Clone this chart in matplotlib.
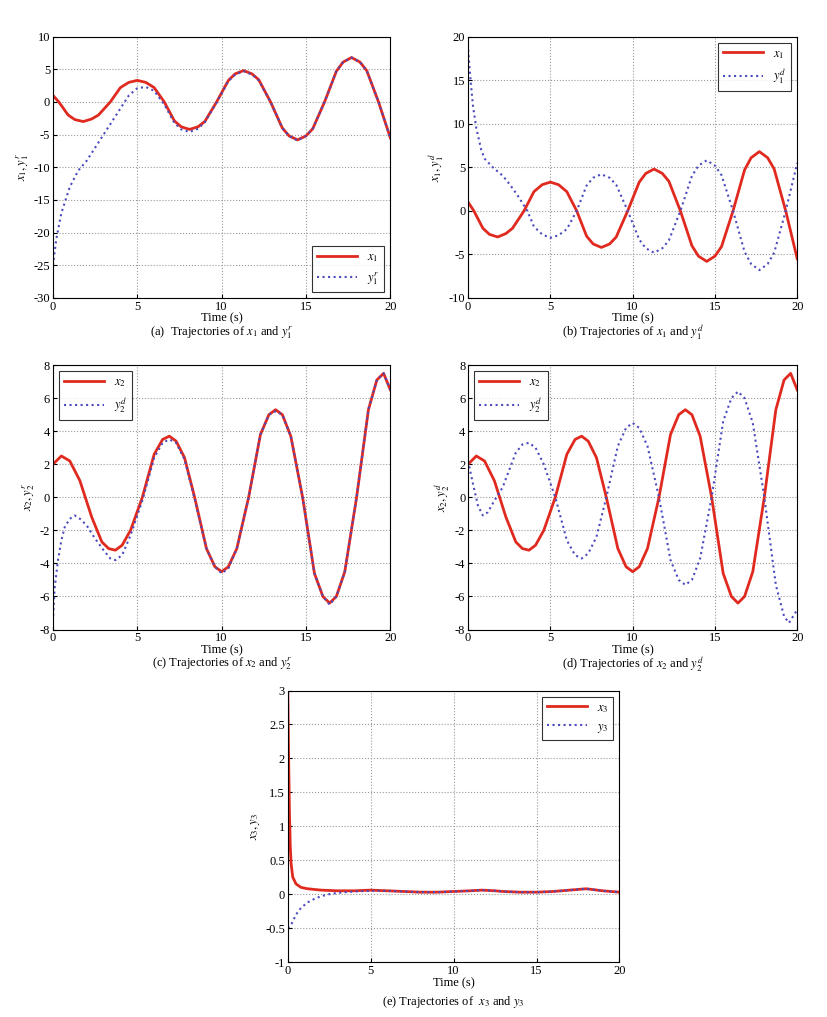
import matplotlib
matplotlib.use("Agg")
import matplotlib.pyplot as plt
from matplotlib.ticker import FormatStrFormatter

plt.rcParams['font.family'] = ['Liberation Serif', 'DejaVu Serif']
plt.rcParams['mathtext.fontset'] = 'stix'
plt.rcParams['axes.unicode_minus'] = False

# ---- data ----
t_x1 = [0,0.35,0.9,1.3,1.8,2.3,2.7,3.4,4.0,4.5,5.0,5.5,6.0,6.6,7.2,7.6,8.1,8.6,9.0,9.7,10.4,10.8,11.3,11.8,12.2,12.9,13.6,14.0,14.5,15.0,15.4,16.1,16.8,17.2,17.7,18.2,18.6,19.3,20]
x1 = [1,0,-2.0,-2.7,-3.0,-2.6,-2.0,0,2.2,3.0,3.3,3.0,2.2,0,-2.9,-3.8,-4.2,-3.8,-3.0,0,3.3,4.3,4.8,4.3,3.4,0,-4.0,-5.2,-5.8,-5.2,-4.1,0,4.7,6.1,6.8,6.1,4.8,0,-5.5]

t_y1r = [0,0.2,0.5,1.0,1.5,2.0,2.5,3.0,3.5,4.0,4.5,5.0,5.5,6.0,6.6,7.2,7.6,8.1,8.6,9.0,9.7,10.4,10.8,11.3,11.8,12.2,12.9,13.6,14.0,14.5,15.0,15.4,16.1,16.8,17.2,17.7,18.2,18.6,19.3,20]
y1r = [-25,-21,-17,-13,-10.5,-9,-7,-5,-3,-1,1,2.1,2.3,1.7,-0.4,-3.2,-4.2,-4.6,-4.1,-3.1,-0.1,3.2,4.2,4.7,4.2,3.3,0,-4.0,-5.2,-5.9,-5.2,-4.1,0,4.7,6.1,6.8,6.1,4.8,0,-5.5]

t_y1d = [0,0.15,0.3,0.5,0.8,1.0,1.5,2.0,2.3,2.7,3.0,3.6,4.0,4.5,5.0,5.5,6.0,6.6,7.2,7.6,8.1,8.6,9.0,9.7,10.4,10.8,11.3,11.8,12.2,12.9,13.6,14.0,14.5,15.0,15.4,16.1,16.8,17.2,17.7,18.2,18.6,19.3,20]
y1d = [18.5,15,12,9.5,7,6,5,4.2,3.6,2.6,1.8,0,-1.8,-2.7,-3.1,-2.8,-2.1,0,2.9,3.8,4.2,3.8,3.0,0,-3.3,-4.3,-4.8,-4.3,-3.4,0,4.0,5.2,5.8,5.2,4.1,0,-4.7,-6.1,-6.8,-6.1,-4.8,0,5.5]

t_x2 = [0,0.5,1.0,1.6,2.3,2.9,3.3,3.7,4.1,4.6,5.3,6.0,6.5,6.9,7.3,7.8,8.4,9.1,9.6,10.0,10.4,10.9,11.6,12.3,12.8,13.2,13.6,14.1,14.8,15.5,16.0,16.4,16.8,17.3,18.0,18.7,19.2,19.6,20]
x2 = [2.0,2.5,2.2,1.0,-1.2,-2.7,-3.1,-3.2,-2.9,-2.0,0,2.6,3.5,3.7,3.4,2.4,0,-3.1,-4.2,-4.5,-4.2,-3.1,0,3.8,5.0,5.3,5.0,3.7,0,-4.6,-6.0,-6.4,-6.0,-4.5,0,5.3,7.1,7.5,6.5]

t_y2r = [0,0.1,0.3,0.5,0.7,1.0,1.3,1.6,2.0,2.5,3.0,3.4,3.7,4.1,4.6,5.3,6.0,6.5,6.9,7.3,7.8,8.4,9.1,9.6,10.0,10.4,10.9,11.6,12.3,12.8,13.2,13.6,14.1,14.8,15.5,16.0,16.4,16.8,17.3,18.0,18.7,19.2,19.6,20]
y2r = [-7.5,-5.5,-3.8,-2.6,-1.8,-1.3,-1.1,-1.3,-1.7,-2.5,-3.2,-3.7,-3.8,-3.5,-2.3,-0.2,2.4,3.3,3.5,3.3,2.3,-0.1,-3.1,-4.2,-4.6,-4.3,-3.1,0,3.8,5.0,5.2,5.0,3.7,0,-4.6,-6.0,-6.5,-6.0,-4.5,0,5.3,7.1,7.5,6.5]

t_y2d = [0,0.3,0.6,0.9,1.2,1.6,2.1,2.9,3.3,3.7,4.1,4.6,5.3,6.0,6.5,6.9,7.3,7.8,8.4,9.1,9.6,10.0,10.4,10.9,11.6,12.3,12.8,13.2,13.6,14.1,14.8,15.5,16.0,16.4,16.8,17.3,18.0,18.7,19.2,19.5,20]
y2d = [2.2,0.8,-0.5,-1.1,-0.9,-0.2,0.6,2.7,3.2,3.3,3.0,2.0,0,-2.6,-3.5,-3.7,-3.4,-2.4,0,3.1,4.2,4.5,4.2,3.1,0,-3.8,-5.0,-5.3,-5.0,-3.7,0,4.6,6.0,6.4,6.0,4.5,0,-5.3,-7.2,-7.6,-6.8]

t_x3 = [0,0.05,0.1,0.15,0.2,0.3,0.5,0.8,1.2,2,3,4,5,6,7,8,9,10,11,11.7,12.5,13,14,15,16,17,18,19,20]
x3 = [3.0,2.0,1.2,0.7,0.45,0.25,0.15,0.1,0.08,0.06,0.05,0.05,0.06,0.05,0.04,0.03,0.03,0.04,0.05,0.06,0.05,0.04,0.03,0.03,0.04,0.06,0.08,0.05,0.03]
t_y3 = [0,0.2,0.5,0.8,1.2,1.6,2,2.5,3,4,5,6,7,8,9,10,11,11.7,12.5,13,14,15,16,17,18,19,20]
y3 = [-0.5,-0.45,-0.3,-0.2,-0.12,-0.07,-0.03,0,0.02,0.04,0.05,0.05,0.04,0.03,0.03,0.04,0.05,0.06,0.05,0.04,0.03,0.03,0.04,0.06,0.08,0.05,0.03]

RED = '#e02a1f'
BLUE = '#4b4bbf'

fig = plt.figure(figsize=(8.27, 10.17), dpi=100)

def make(rect, xs, ys, tsd, yd, ylim, yticks, ylabel, lab1, lab2, loc, caption, cap_y):
    ax = fig.add_axes(rect)
    ax.plot(xs, ys, color=RED, lw=2, label=lab1)
    ax.plot(tsd, yd, color=BLUE, lw=1.5, ls=':', label=lab2)
    ax.set_xlim(0, 20)
    ax.set_ylim(*ylim)
    ax.set_xticks([0, 5, 10, 15, 20])
    ax.set_yticks(yticks)
    ax.yaxis.set_major_formatter(FormatStrFormatter('%g'))
    ax.grid(True, ls=':', color='#999999', lw=0.8)
    ax.tick_params(labelsize=9, direction='in', length=3, pad=2)
    ax.set_xlabel('Time (s)', fontsize=9, labelpad=0)
    ax.set_ylabel(ylabel, fontsize=9, labelpad=2)
    leg = ax.legend(loc=loc, fontsize=9, fancybox=False, edgecolor='black', handlelength=3.2)
    leg.get_frame().set_linewidth(0.8)
    cx = rect[0] + rect[2] / 2
    fig.text(cx, cap_y, caption, ha='center', va='center', fontsize=9)
    return ax

make([0.064, 0.707, 0.408, 0.257], t_x1, x1, t_y1r, y1r, (-30, 10), range(-30, 11, 5),
     r'$x_1, y_1^r$', r'$x_1$', r'$y_1^r$', 'lower right',
     r'(a)  Trajectories of $x_1$ and $y_1^r$', 0.673)
make([0.566, 0.707, 0.398, 0.257], t_x1, x1, t_y1d, y1d, (-10, 20), range(-10, 21, 5),
     r'$x_1, y_1^d$', r'$x_1$', r'$y_1^d$', 'upper right',
     r'(b) Trajectories of $x_1$ and $y_1^d$', 0.673)
make([0.064, 0.381, 0.408, 0.260], t_x2, x2, t_y2r, y2r, (-8, 8), range(-8, 9, 2),
     r'$x_2, y_2^r$', r'$x_2$', r'$y_2^d$', 'upper left',
     r'(c) Trajectories of $x_2$ and $y_2^r$', 0.347)
make([0.566, 0.381, 0.398, 0.260], t_x2, x2, t_y2d, y2d, (-8, 8), range(-8, 9, 2),
     r'$x_2, y_2^d$', r'$x_2$', r'$y_2^d$', 'upper left',
     r'(d) Trajectories of $x_2$ and $y_2^d$', 0.347)
make([0.348, 0.054, 0.401, 0.267], t_x3, x3, t_y3, y3, (-1, 3), [-1, -0.5, 0, 0.5, 1, 1.5, 2, 2.5, 3],
     r'$x_3, y_3$', r'$x_3$', r'$y_3$', 'upper right',
     r'(e) Trajectories of  $x_3$ and $y_3$', 0.015)

fig.savefig('out.png', dpi=100)
